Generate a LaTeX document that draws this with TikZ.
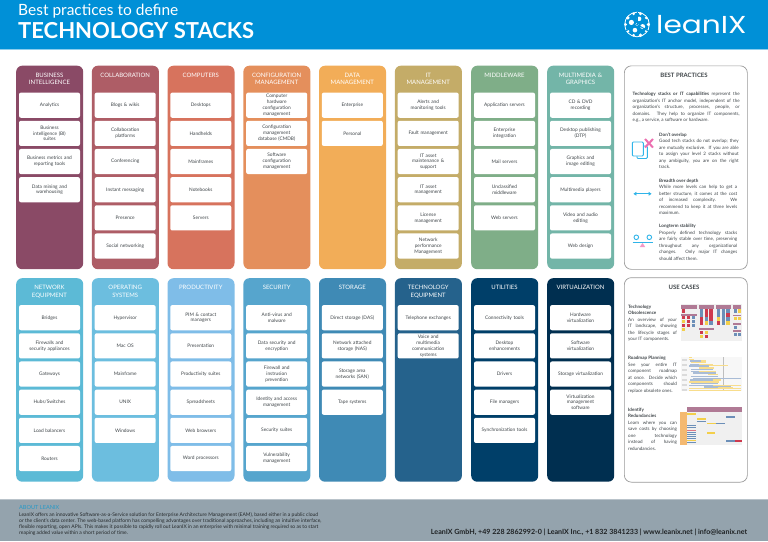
\documentclass[tikz,border=0pt]{standalone}
\usepackage{fontspec}
\usepackage{graphicx}
\setmainfont{Lato}
\newfontfamily\logofont{Poppins}
\usetikzlibrary{arrows.meta}
\definecolor{hdr}{HTML}{0090D7}
\definecolor{foot}{HTML}{94A3AD}
\definecolor{ink}{HTML}{3F4549}
\definecolor{cyanic}{HTML}{2FB4E9}
\definecolor{pinkic}{HTML}{EC6FB0}
\definecolor{mv}{HTML}{B07A95}
\definecolor{tr}{HTML}{CE3A4E}
\definecolor{tb}{HTML}{6C8FB8}
\definecolor{ty}{HTML}{F3CF4A}
\definecolor{by}{HTML}{F8DD8C}
\definecolor{bb}{HTML}{A9BCD6}
\definecolor{ca}{HTML}{8A4A66}
\definecolor{cb}{HTML}{AE5D66}
\definecolor{cc}{HTML}{D7735D}
\definecolor{cd}{HTML}{E48F5C}
\definecolor{ce}{HTML}{F2AD58}
\definecolor{cf}{HTML}{C4AC68}
\definecolor{cg}{HTML}{7FAE88}
\definecolor{ch}{HTML}{73B5A8}
\definecolor{da}{HTML}{5CBAD6}
\definecolor{db}{HTML}{6CBEDF}
\definecolor{dc}{HTML}{7FBDE8}
\definecolor{dd}{HTML}{56A5CD}
\definecolor{de}{HTML}{3F8AB5}
\definecolor{df}{HTML}{25628C}
\definecolor{dg}{HTML}{003F69}
\definecolor{dh}{HTML}{002F50}
\tikzset{
  x=1pt,y=-1pt,
  colbox/.style={rounded corners=6pt,minimum width=67pt,minimum height=203.5pt,anchor=north west,inner sep=0pt,draw=none},
  card/.style={fill=white,rounded corners=2pt,minimum width=61pt,minimum height=25.2pt,text width=59pt,align=center,inner sep=0pt,text=ink,font=\fontsize{4.8}{5.85}\selectfont},
  coltitle/.style={anchor=north,align=center,text=white,inner sep=0pt,text width=66pt,font=\fontsize{6}{7.3}\selectfont},
  panel/.style={draw=black!40,line width=0.7pt,fill=white,rounded corners=7pt,minimum width=123pt,anchor=north west,inner sep=0pt},
  ptitle/.style={inner sep=0pt,anchor=base,text=ink},
  para/.style={inner sep=0pt,anchor=north west,align=justify,text=ink,font=\fontsize{4.55}{6.5}\selectfont},
  icon/.style={draw=cyanic,line width=0.9pt,rounded corners=1pt}
}
\newcommand{\stackcol}[6]{%
  \node[colbox,fill=#4] (#1) at (#2,#3) {};
  \node[coltitle] (#1t) at ({#2+33.5},{#3+7.3}) {#5};
  \foreach \t [count=\k from 0] in {#6} {
    \node[card] (#1c\k) at ({#2+33.5},{#3+27.1+28.17*\k+12.6}) {\t};
  }
}
\newcommand{\LB}{\linebreak}
\begin{document}
\begin{tikzpicture}
\useasboundingbox (0,0) rectangle (768,541);
\fill[white] (0,0) rectangle (768,541);
% header and footer
\fill[hdr] (0,0) rectangle (768,49.3);
\fill[hdr!45] (0,49.3) rectangle (768,50.2);
\fill[foot] (0,499.6) rectangle (768,541);
\fill[foot!65] (0,499.2) rectangle (768,500);
\node[inner sep=0pt,anchor=base west,text=white,font=\fontsize{15.5}{15.5}\selectfont] (htop) at (18,15.7) {Best practices to define};
\node[inner sep=0pt,anchor=base west,text=white,font=\fontsize{22}{22}\selectfont\bfseries] (hmain) at (18,38.3) {TECHNOLOGY STACKS};
% logo
\begin{scope}
  \foreach \a/\r/\s in {0/11.3/1.7,36/11.3/1.5,72/11.3/1.8,108/11.3/1.5,144/11.3/1.7,180/11.3/1.5,216/11.3/1.8,252/11.3/1.5,288/11.3/1.7,324/11.3/1.5,20/6/2.5,110/6/2.3,200/6/2.6,290/6/2.3,0/0/1.6}
    \fill[white] ({637+\r*cos(\a)},{24.5+\r*sin(\a)}) circle (\s);
  \draw[white,line width=0.8pt] (637,24.5) circle (12.3);
  \foreach \a in {30,150,270}
    \draw[line width=0.9pt,hdr] (637,24.5) -- ++(\a:12.5);
\end{scope}
\node[inner sep=0pt,anchor=base west,text=white,font=\logofont\fontsize{24.5}{24.5}\selectfont] (logo) at (656,33.7) {\scalebox{1.21}[1]{leanIX}};
% top row
\stackcol{a}{16}{65.5}{ca}{BUSINESS\\INTELLIGENCE}{Analytics,{Business\\intelligence (BI)\\suites},{Business metrics and\\reporting tools},{Data mining and\\warehousing}}
\stackcol{b}{91.7}{65.5}{cb}{COLLABORATION}{Blogs \& wikis,{Collaboration\\platforms},Conferencing,Instant messaging,Presence,Social networking}
\stackcol{c}{167.3}{65.5}{cc}{COMPUTERS}{Desktops,Handhelds,Mainframes,Notebooks,Servers}
\stackcol{d}{243.2}{65.5}{cd}{CONFIGURATION\\MANAGEMENT}{{Computer\\hardware\\configuration\\management},{Configuration\\management\\database (CMDB)},{Software\\configuration\\management}}
\stackcol{e}{318.8}{65.5}{ce}{DATA\\MANAGEMENT}{Enterprise,Personal}
\stackcol{f}{394.7}{65.5}{cf}{IT\\MANAGEMENT}{{Alerts and\\monitoring tools},Fault management,{IT asset\\maintenance \&\\support},{IT asset\\management},{License\\management},{Network\\performance\\Management}}
\stackcol{g}{471}{65.5}{cg}{MIDDLEWARE}{Application servers,{Enterprise\\integration},Mail servers,{Unclassified\\middleware},Web servers}
\stackcol{h}{547}{65.5}{ch}{MULTIMEDIA \&\\GRAPHICS}{{CD \& DVD\\recording},{Desktop publishing\\(DTP)},{Graphics and\\image editing},Multimedia players,{Video and audio\\editing},Web design}
% bottom row
\stackcol{i}{16}{278}{da}{NETWORK\\EQUIPMENT}{Bridges,{Firewalls and\\security appliances},Gateways,Hubs/Switches,Load balancers,Routers}
\stackcol{j}{91.7}{278}{db}{OPERATING\\SYSTEMS}{Hypervisor,Mac OS,Mainframe,UNIX,Windows}
\stackcol{k}{167.3}{278}{dc}{PRODUCTIVITY}{{PIM \& contact\\managers},Presentation,Productivity suites,Spreadsheets,Web browsers,Word processors}
\stackcol{l}{243.2}{278}{dd}{SECURITY}{{Anti-virus and\\malware},{Data security and\\encryption},{Firewall and\\instrusion\\prevention},{Identity and access\\management},Security suites,{Vulnerability\\management}}
\stackcol{m}{318.8}{278}{de}{STORAGE}{Direct storage (DAS),{Network attached\\storage (NAS)},{Storage area\\networks (SAN)},Tape systems}
\stackcol{n}{394.7}{278}{df}{TECHNOLOGY\\EQUIPMENT}{Telephone exchanges,{Voice and\\multimedia\\communication\\systems}}
\stackcol{o}{471}{278}{dg}{UTILITIES}{Connectivity tools,{Desktop\\enhancements},Drivers,File managers,Synchronization tools}
\stackcol{p}{547}{278}{dh}{VIRTUALIZATION}{{Hardware\\virtualization},{Software\\virtualization},Storage virtualization,{Virtualization\\management\\software}}
% best practices panel
\node[panel,minimum height=203.5pt] (bp) at (624,65.5) {};
\node[ptitle,font=\fontsize{6}{7}\selectfont\bfseries] (bpt) at (684,77) {BEST PRACTICES};
\node[para,text width=107pt] (bp0) at (632.5,92.3) {\textbf{Technology stacks or IT capabilities} represent the\LB organization's IT anchor model, independent of the\LB organization's structure, processes, people, or\LB domains. They help to organize IT components,\LB e.g., a service, a software or hardware.};
\node[para,text width=79.5pt] (bp1) at (659,132.6) {\textbf{Don't overlap}\\Good tech stacks do not overlap; they\LB are mutually exclusive. If you are able\LB to assign your level 2 stacks without\LB any ambiguity, you are on the right\LB track.};
\node[para,text width=78pt] (bp2) at (659,178.6) {\textbf{Breadth over depth}\\While more levels can help to get a\LB better structure, it comes at the cost\LB of increased complexity. We\LB recommend to keep it at three levels\LB maximum.};
\node[para,text width=78pt] (bp3) at (659,224.3) {\textbf{Longterm stability}\\Properly defined technology stacks\LB are fairly stable over time, preserving\LB throughout any organizational\LB changes. Only major IT changes\LB should affect them.};
% icons
\draw[icon,fill=white] (637,146) rectangle (647.3,158.5);
\draw[icon,fill=white] (632.3,142) rectangle (643.3,156);
\draw[pinkic,line width=2pt] (645,139) -- (653,147.5) (653,139) -- (645,147.5);
\draw[cyanic,line width=1.1pt,{Latex[length=3pt,width=4.2pt]}-{Latex[length=3pt,width=4.2pt]}] (633.3,193.8) -- (651.7,193.8);
\draw[cyanic,line width=0.9pt] (636.3,237.3) circle (2.3) (649.3,237.3) circle (2.3);
\draw[cyanic,line width=0.9pt] (632.5,242) -- (653,242);
\fill[pinkic!70] (642.5,243) -- (645.2,247) -- (639.8,247) -- cycle;
% use cases panel
\node[panel,minimum height=204.5pt] (uc) at (624,277.3) {};
\node[ptitle,font=\fontsize{6}{7}\selectfont\bfseries] (uct) at (684,289.5) {USE CASES};
\node[para,text width=48.7pt] (uc1) at (628,304.8) {\textbf{Technology}\\\textbf{Obsolescence}\\An overview of your\LB IT landscape, showing\LB the lifecycle stages of\LB your IT components.};
\node[para,text width=48.7pt] (uc2) at (628,356.2) {\textbf{Roadmap Planning}\\See your entire IT\LB component roadmap\LB at once. Decide which\LB components should\LB replace obsolete ones.};
\node[para,text width=48.7pt] (uc3) at (628,407.5) {\textbf{Identify}\\\textbf{Redundancies}\\Learn where you can\LB save costs by choosing\LB one technology\LB instead of having\LB redundancies.};
% thumbnail 1
\fill[black!6] (681,304) rectangle (741.7,340.7);
\foreach \x/\w in {681/15.7,699.3/14.4,716.3/14.7,733.3/8}
  \fill[mv] (\x,304.7) rectangle ++(\w,4);
\foreach \x/\y/\w/\h in {681/313.5/15.7/2,733.3/314.5/8/1.8,733.3/323/8/1.8,733.3/330/8/1.8,699.3/328.3/14.4/2}
  \fill[mv] (\x,\y) rectangle ++(\w,\h);
\foreach \x/\y/\c in {
 681.5/309.4/tr,
 681.5/316/tr,686.5/316/tr,691.5/316/tb,
 681.5/320/ty,686.5/320/tr,691.5/320/tb,
 681.5/324/tr,686.5/324/tr,691.5/324/tb,
 681.5/328/ty,
 699.7/309.4/tb,704.6/309.4/tr,709.4/309.4/tr,
 699.7/313.4/tb,704.6/313.4/tr,709.4/313.4/tr,
 699.7/317.4/tr,704.6/317.4/tb,709.4/317.4/tr,
 699.7/321.4/tr,704.6/321.4/ty,709.4/321.4/tb,
 699.7/331/tr,704.6/331/ty,
 699.7/335/ty,704.6/335/tr,
 716.7/309.4/tb,721.5/309.4/tb,726.3/309.4/tb,
 716.7/313.4/tb,721.5/313.4/tb,726.3/313.4/tr,
 716.7/317.4/ty,721.5/317.4/tb,726.3/317.4/tb,
 716.7/321.4/tr,721.5/321.4/tb,726.3/321.4/ty,
 733.7/309.4/tb,737.6/309.4/ty,
 733.7/317/ty,737.6/317/ty,
 733.7/325.5/tb,
 733.7/332.5/tb,737.6/332.5/tb}
  \fill[\c] (\x,\y) rectangle ++(3.7,3.2);
% thumbnail 2
\fill[black!3] (681,357) rectangle (741.7,391);
\foreach \y in {359,364,369,374,379,384,389}
  \fill[black!14] (681.5,\y) rectangle (687,{\y+2});
\draw[black!25,line width=0.3pt] (722.7,357) -- (722.7,390.5);
\foreach \a/\b/\y/\c in {39/48/17/by,39/55/22/by,42/75/27/bb,75/90/27/by,45/90/32/by,42/110/37/bb,70/110/39/by,110/155/40/by,40/100/42/bb,70/115/48/by,45/110/53/bb,45/70/58/bb,70/120/58/by,50/120/63/bb,95/125/68/by,45/125/74/bb,50/130/79/bb,130/195/79/bb,42/110/84/bb,110/135/84/by,40/130/90/by,45/125/95/bb,40/110/100/bb,110/195/100/by,85/165/105/bb,125/170/106/by,40/195/110/by,40/195/115/by}
  \fill[\c] ({676+\a/3},{352+\y/3-0.8}) rectangle ({676+\b/3},{352+\y/3+0.8});
% thumbnail 3
\fill[black!6] (687,412) rectangle (741.7,445.3);
\fill[mv] (687,407) rectangle (741.7,412.3);
\fill[ce!85] (680.3,412.3) rectangle (687,445.3);
\foreach \a/\b/\y/\h/\c in {33/60/34/4/ty,150/177/41/8/tb,62/90/49/4/ty,62/90/56/4/tb,92/120/62/4/ty,120/148/62/4/tb,33/60/69/4/tb,33/60/75/4/tb,33/60/84/4/tr!70,33/60/90/4/tb,92/118/91/4/ty,33/60/96/4/tb,33/60/102/4/tb,33/60/108/4/tb,33/60/114/4/ty,150/177/115/4/tb,177/197/115/4/tr,33/60/120/4/tb}
  \fill[\c] ({676+\a/3},{402+\y/3}) rectangle ({676+\b/3},{402+(\y+\h)/3});
% footer text
\node[inner sep=0pt,anchor=base west,text=cyanic!85!black,font=\fontsize{5.6}{6}\selectfont] (abt) at (19,509) {ABOUT LEANIX};
\node[inner sep=0pt,anchor=north west,align=left,text=black!75!foot,font=\fontsize{5}{6.1}\selectfont] (abtx) at (19,512.6) {LeanIX offers an innovative Software-as-a-Service solution for Enterprise Architecture Management (EAM), based either in a public cloud\\or the client's data center. The web-based platform has compelling advantages over traditional approaches, including an intuitive interface,\\flexible reporting, open APIs. This makes it possible to rapidly roll out LeanIX in an enterprise with minimal training required so as to start\\reaping added value within a short period of time.};
\node[inner sep=0pt,anchor=base east,text=black!80!foot,font=\fontsize{7.1}{8}\selectfont\bfseries] (ctc) at (747.3,534.5) {LeanIX GmbH, +49 228 2862992-0 | LeanIX Inc., +1 832 3841233 | www.leanix.net | info@leanix.net};
\end{tikzpicture}
\end{document}
